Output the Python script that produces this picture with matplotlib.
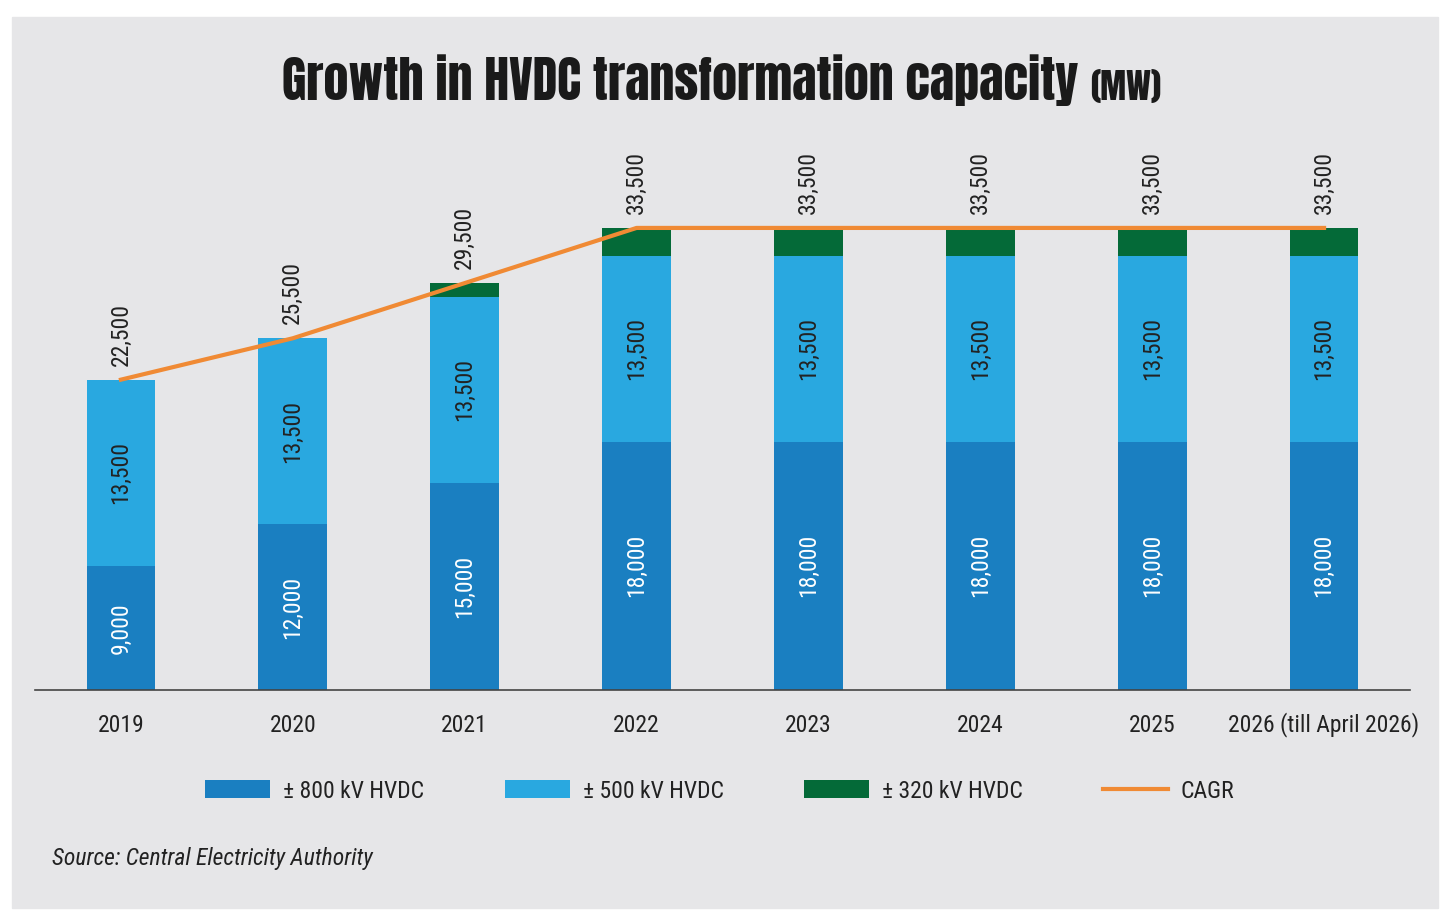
import matplotlib.pyplot as plt
from matplotlib.patches import Rectangle
import numpy as np

body = ['Roboto Condensed', 'Liberation Sans', 'DejaVu Sans']
plt.rcParams['font.family'] = body

years = ['2019', '2020', '2021', '2022', '2023', '2024', '2025', '2026 (till April 2026)']
kv800 = [9000, 12000, 15000, 18000, 18000, 18000, 18000, 18000]
kv500 = [13500, 13500, 13500, 13500, 13500, 13500, 13500, 13500]
kv320 = [0, 0, 1000, 2000, 2000, 2000, 2000, 2000]
totals = [22500, 25500, 29500, 33500, 33500, 33500, 33500, 33500]

colors = {
    '800': '#1a7fc1',
    '500': '#29a8e0',
    '320': '#046a38',
    'cagr': '#f08a34',
    'bg': '#e6e6e8',
    'text': '#222222',
}

fig = plt.figure(figsize=(14.51, 9.17), dpi=100, facecolor='white')
fig.patches.append(Rectangle((12 / 1451, 1 - 908 / 917), 1426 / 1451, 891 / 917,
                             transform=fig.transFigure, color=colors['bg'], zorder=-10))

ax = fig.add_axes([35 / 1451, 1 - 690 / 917, 1375 / 1451, 540 / 917])
ax.set_facecolor('none')

x = np.arange(len(years))
w = 0.4
b800 = np.array(kv800)
b500 = np.array(kv500)
b320 = np.array(kv320)

ax.bar(x, b800, w, color=colors['800'], label='± 800 kV HVDC')
ax.bar(x, b500, w, bottom=b800, color=colors['500'], label='± 500 kV HVDC')
ax.bar(x, b320, w, bottom=b800 + b500, color=colors['320'], label='± 320 kV HVDC')
ax.plot(x, totals, color=colors['cagr'], lw=3, label='CAGR', zorder=5)

fs = 17
for i in range(len(years)):
    ax.text(x[i], b800[i] / 2, f'{kv800[i]:,}', rotation=90, ha='center', va='center',
            color='white', fontsize=fs)
    ax.text(x[i], b800[i] + b500[i] / 2, f'{kv500[i]:,}', rotation=90, ha='center', va='center',
            color=colors['text'], fontsize=fs)
    ax.annotate(f'{totals[i]:,}', (x[i], totals[i]), xytext=(0, 10), textcoords='offset points',
                rotation=90, ha='center', va='bottom', color=colors['text'], fontsize=fs)

ax.set_xlim(-0.5, 7.5)
ax.set_ylim(0, 39150)
ax.set_xticks(x)
ax.set_xticklabels(years, fontsize=fs, color=colors['text'])
for lbl in ax.get_xticklabels():
    lbl.set_va('baseline')
ax.tick_params(axis='x', length=0, pad=30)
ax.set_yticks([])
for s in ['top', 'right', 'left']:
    ax.spines[s].set_visible(False)
ax.spines['bottom'].set_color('#444444')
ax.spines['bottom'].set_linewidth(1.2)

title_font = ['Anton', 'DejaVu Sans']
fig.text(1078 / 1451, 1 - 100 / 917, 'Growth in HVDC transformation capacity', ha='right',
         va='baseline', fontsize=36, family=title_font, color='#1a1a1a')
fig.text(1090 / 1451, 1 - 100 / 917, '(MW)', ha='left', va='baseline', fontsize=25,
         family=title_font, color='#1a1a1a')

handles, labels = ax.get_legend_handles_labels()
order = [1, 2, 3, 0]
fig.legend([handles[k] for k in order], [labels[k] for k in order], loc='center',
           bbox_to_anchor=(720 / 1451, 1 - 791 / 917), ncol=4, frameon=False, fontsize=fs,
           handlelength=2.75, handleheight=0.8, columnspacing=3.4, handletextpad=0.55,
           labelcolor=colors['text'])

fig.text(52 / 1451, 1 - 859 / 917, 'Source: Central Electricity Authority', style='italic',
         fontsize=fs, color=colors['text'], va='center')

fig.savefig('out.png', dpi=100, facecolor=fig.get_facecolor())
